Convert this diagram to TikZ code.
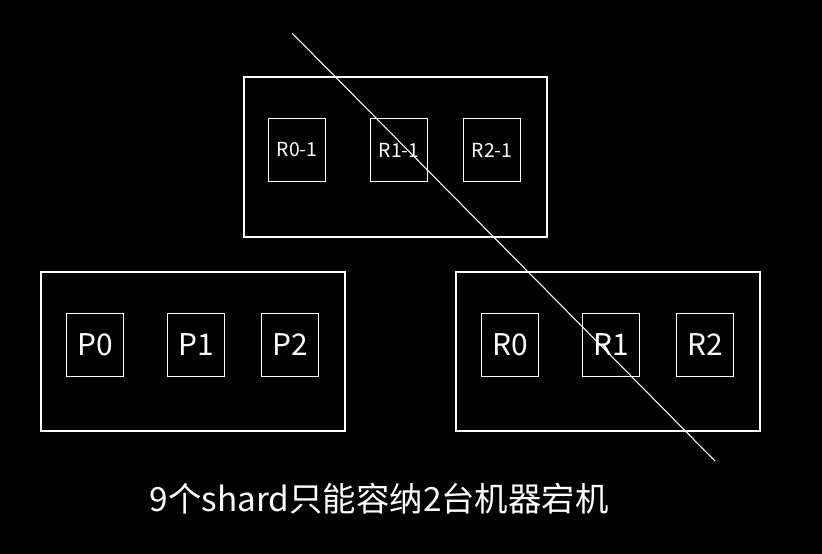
\documentclass[tikz,border=0pt]{standalone}
\usepackage{fontspec}
\setmainfont{Noto Sans CJK SC}
\tikzset{
  machine/.style={draw=white, line width=0.6pt},
  shard/.style={draw=white, line width=0.6pt, text=white, minimum width=57*0.02cm, minimum height=63*0.02cm, inner sep=0pt},
  small/.style={font=\fontsize{11}{13}\selectfont},
  big/.style={font=\fontsize{17}{20}\selectfont}
}
\begin{document}
\begin{tikzpicture}[x=0.02cm, y=-0.02cm]
\fill[black] (0,0) rectangle (822,554);
\useasboundingbox (0,0) rectangle (822,554);
% machines
\draw[machine] (244,77) rectangle (547,237);
\draw[machine] (41,272) rectangle (345,431);
\draw[machine] (456,272) rectangle (760,431);
% replicas of replicas
\node[shard, small] (r01) at (297,150) {R0-1};
\node[shard, small] (r11) at (399,150) {R1-1};
\node[shard, small] (r21) at (492,150) {R2-1};
% primaries
\node[shard, big] (p0) at (95,345) {P0};
\node[shard, big] (p1) at (196,345) {P1};
\node[shard, big] (p2) at (290,345) {P2};
% replicas
\node[shard, big] (r0) at (510,345) {R0};
\node[shard, big] (r1) at (611,345) {R1};
\node[shard, big] (r2) at (705,345) {R2};
% cut line
\coordinate (cuta) at (292,33);
\coordinate (cutb) at (715,461);
\draw[white, line width=0.6pt] (cuta) -- (cutb);
\node[text=white, font=\fontsize{19}{22}\selectfont] (caption) at (379,499) {9个shard只能容纳2台机器宕机};
\end{tikzpicture}
\end{document}
